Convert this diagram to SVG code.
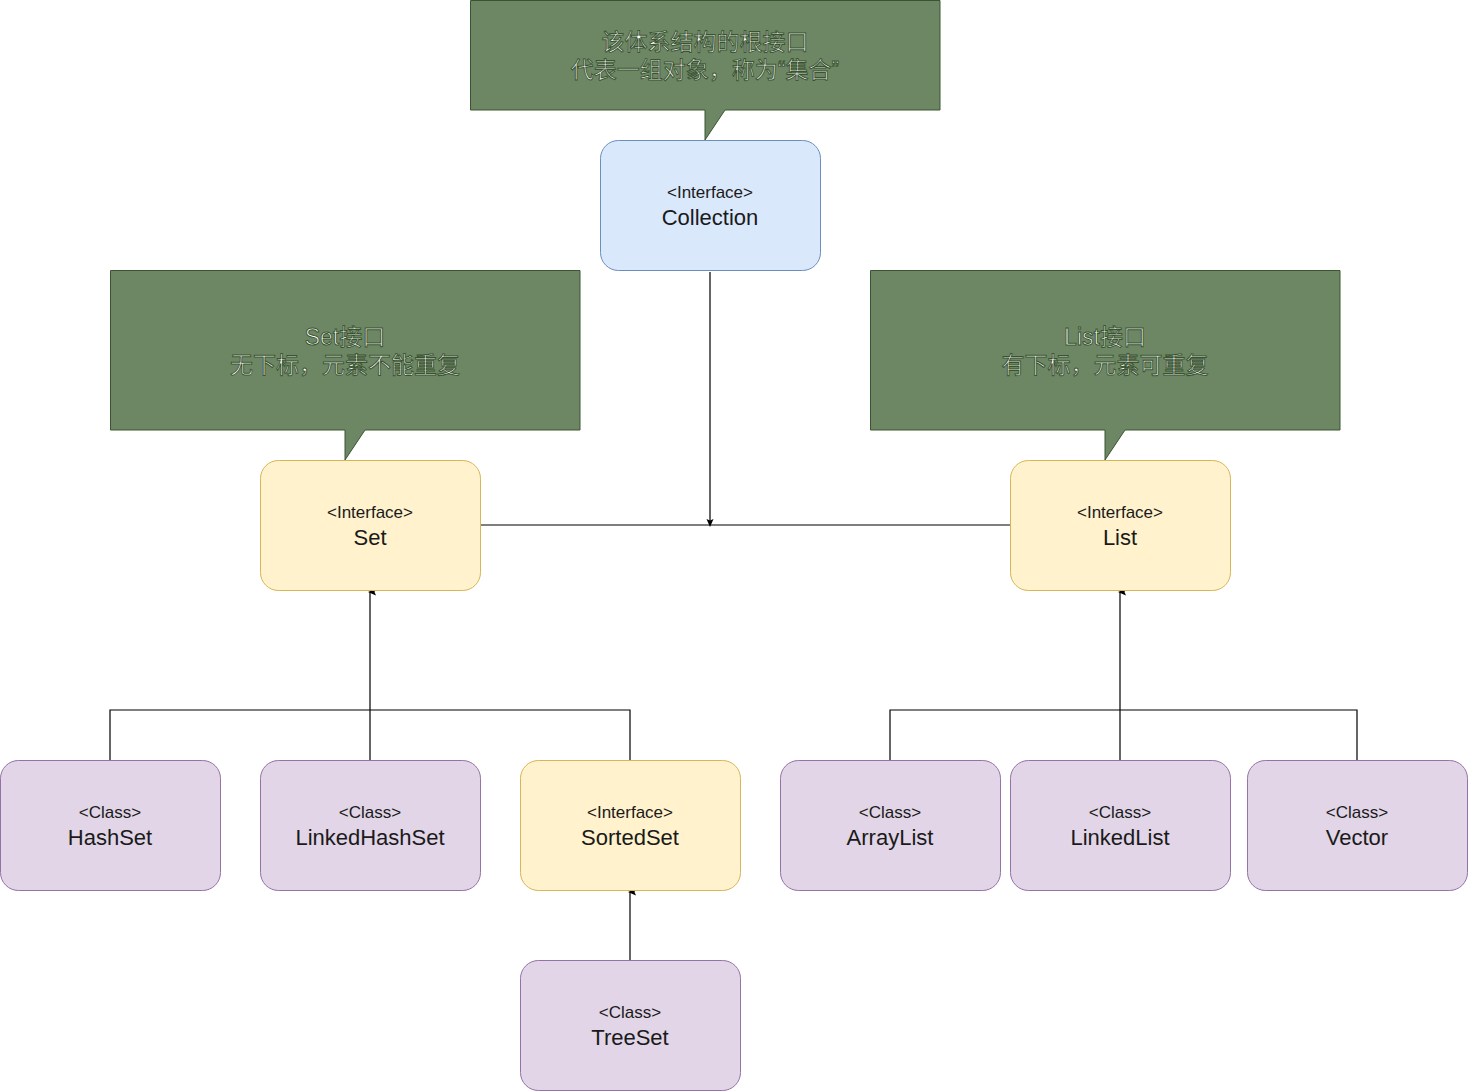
<svg xmlns="http://www.w3.org/2000/svg" width="1468" height="1091" viewBox="0 0 1468 1091">
<style>
text{font-family:"Liberation Sans","Noto Sans CJK SC",sans-serif;text-anchor:middle;fill:#1a1a1a}
.s{font-size:17px}.b{font-size:22px}
.c{fill:#6d8764;stroke:#3a5431}
.c text{fill:#fff;font-size:23px}
.blue{fill:#dae8fc;stroke:#6c8ebf}
.yel{fill:#fff2cc;stroke:#d6b656}
.pur{fill:#e1d5e7;stroke:#9673a6}
.e{fill:none;stroke:#000;stroke-width:1.2}
</style>
<defs><marker id="a" markerWidth="8" markerHeight="8" refX="4" refY="2" orient="auto-start-reverse" markerUnits="userSpaceOnUse" viewBox="0 0 8 8"><path d="M4,0 L7.5,8 L4,6.5 L0.5,8 Z" fill="#000"/></marker></defs>
<rect width="1468" height="1091" fill="#fff"/>
<g id="callout-root" class="c"><path d="M470.5,0.5H940V110H725L705,140V110H470.5Z"/><text x="705" y="50">该体系结构的根接口</text><text x="705" y="78">代表一组对象，称为“集合”</text></g>
<g id="callout-set" class="c"><path d="M110.5,270.5H580V430H365L345,460V430H110.5Z"/><text x="345" y="345">Set接口</text><text x="345" y="373">无下标，元素不能重复</text></g>
<g id="callout-list" class="c"><path d="M870.5,270.5H1340V430H1125L1105,460V430H870.5Z"/><text x="1105" y="345">List接口</text><text x="1105" y="373">有下标，元素可重复</text></g>
<g id="connectors">
<path class="e" d="M480,525H710V272M1010,525H710" marker-end="url(#a)"/>
<path class="e" d="M110,760V710H630V760M370,760V592" marker-end="url(#a)"/>
<path class="e" d="M890,760V710H1357V760M1120,760V592" marker-end="url(#a)"/>
<path class="e" d="M630,960V892" marker-end="url(#a)"/>
</g>
<g id="collection"><rect class="blue" x="600.5" y="140.5" width="220" height="130" rx="18"/><text class="s" x="710" y="198">&lt;Interface&gt;</text><text class="b" x="710" y="225">Collection</text></g>
<g id="set"><rect class="yel" x="260.5" y="460.5" width="220" height="130" rx="18"/><text class="s" x="370" y="518">&lt;Interface&gt;</text><text class="b" x="370" y="545">Set</text></g>
<g id="list"><rect class="yel" x="1010.5" y="460.5" width="220" height="130" rx="18"/><text class="s" x="1120" y="518">&lt;Interface&gt;</text><text class="b" x="1120" y="545">List</text></g>
<g id="hashset"><rect class="pur" x="0.5" y="760.5" width="220" height="130" rx="18"/><text class="s" x="110" y="818">&lt;Class&gt;</text><text class="b" x="110" y="845">HashSet</text></g>
<g id="linkedhashset"><rect class="pur" x="260.5" y="760.5" width="220" height="130" rx="18"/><text class="s" x="370" y="818">&lt;Class&gt;</text><text class="b" x="370" y="845">LinkedHashSet</text></g>
<g id="sortedset"><rect class="yel" x="520.5" y="760.5" width="220" height="130" rx="18"/><text class="s" x="630" y="818">&lt;Interface&gt;</text><text class="b" x="630" y="845">SortedSet</text></g>
<g id="arraylist"><rect class="pur" x="780.5" y="760.5" width="220" height="130" rx="18"/><text class="s" x="890" y="818">&lt;Class&gt;</text><text class="b" x="890" y="845">ArrayList</text></g>
<g id="linkedlist"><rect class="pur" x="1010.5" y="760.5" width="220" height="130" rx="18"/><text class="s" x="1120" y="818">&lt;Class&gt;</text><text class="b" x="1120" y="845">LinkedList</text></g>
<g id="vector"><rect class="pur" x="1247.5" y="760.5" width="220" height="130" rx="18"/><text class="s" x="1357" y="818">&lt;Class&gt;</text><text class="b" x="1357" y="845">Vector</text></g>
<g id="treeset"><rect class="pur" x="520.5" y="960.5" width="220" height="130" rx="18"/><text class="s" x="630" y="1018">&lt;Class&gt;</text><text class="b" x="630" y="1045">TreeSet</text></g>
</svg>
